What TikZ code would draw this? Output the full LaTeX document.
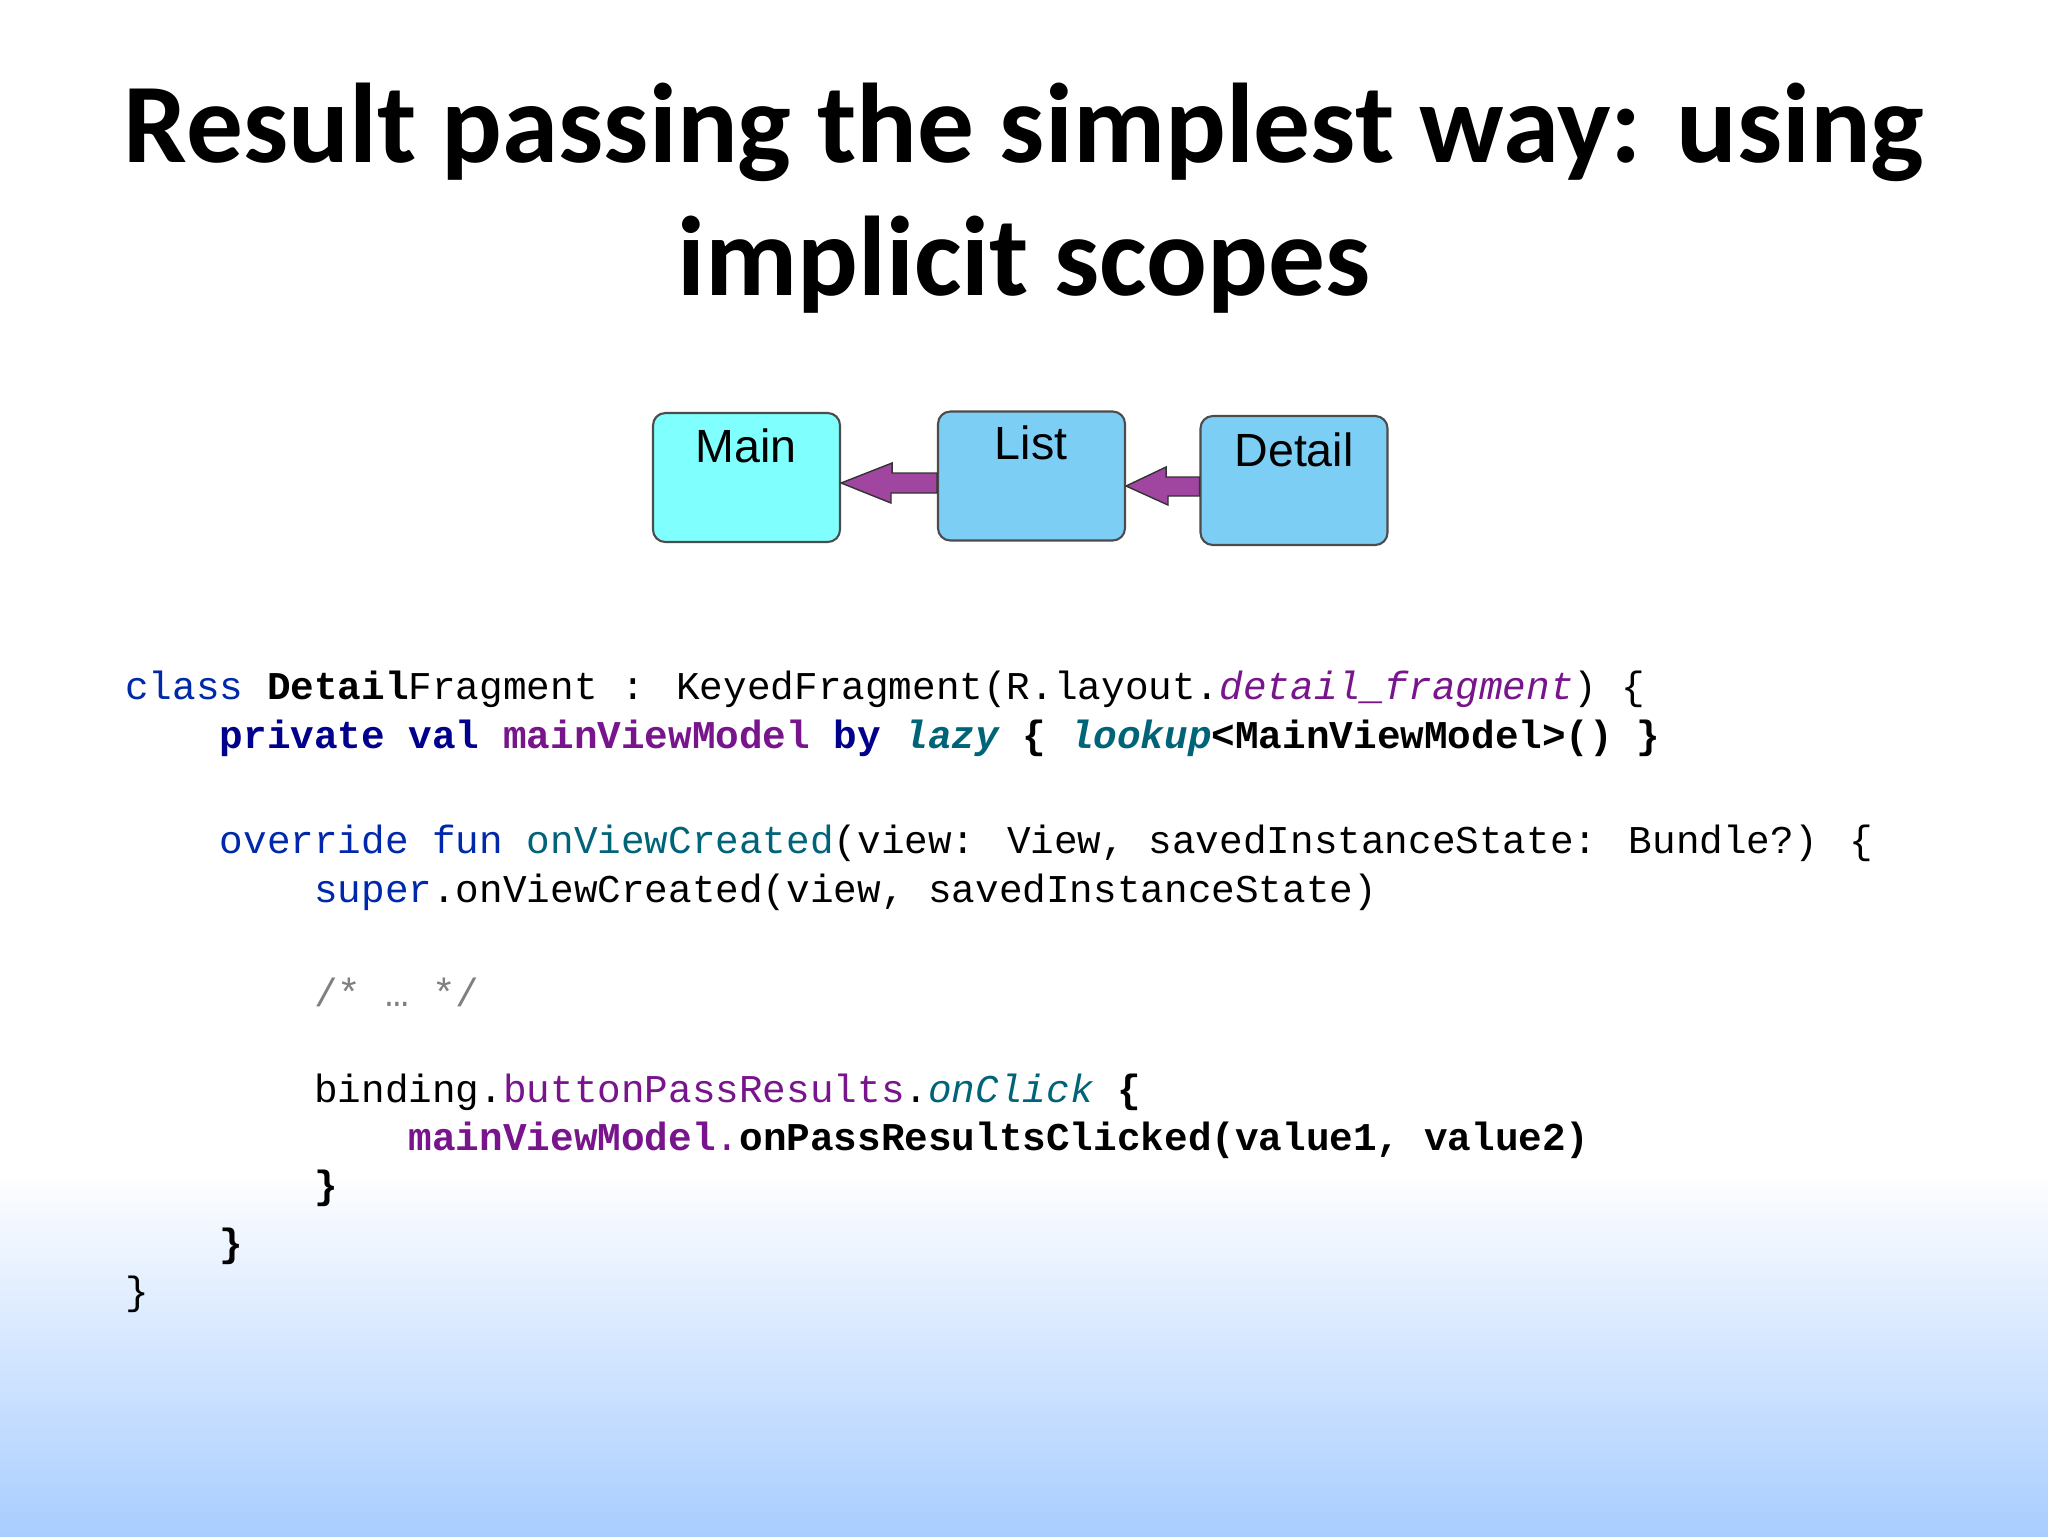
\documentclass[tikz,border=0pt]{standalone}
\usepackage{fontspec}
\setmainfont{Carlito}
\newfontfamily\codefont{Liberation Mono}
\newfontfamily\boxfont{Liberation Sans}
\definecolor{kwblue}{RGB}{0,40,170}
\definecolor{kwnavy}{RGB}{0,0,140}
\definecolor{kwpurple}{RGB}{120,20,140}
\definecolor{kwteal}{RGB}{0,100,120}
\definecolor{cmtgray}{RGB}{128,128,128}
\definecolor{maincyan}{RGB}{128,255,255}
\definecolor{boxblue}{RGB}{125,206,245}
\definecolor{arrowpurple}{RGB}{160,70,160}
\definecolor{bgblue}{RGB}{168,205,255}
\newcommand{\kb}[1]{\textcolor{kwblue}{#1}}
\newcommand{\kn}[1]{\textcolor{kwnavy}{\bfseries #1}}
\newcommand{\kp}[1]{\textcolor{kwpurple}{#1}}
\newcommand{\kt}[1]{\textcolor{kwteal}{#1}}
\tikzset{
  codeline/.style={anchor=base west, inner sep=0pt, font=\codefont\fontsize{22.4}{26}\selectfont},
  boxnode/.style={draw=black!70, line width=1.2pt, rounded corners=7pt, minimum width=187*0.02cm, minimum height=129*0.02cm, inner sep=0pt},
  boxlabel/.style={anchor=base, inner sep=0pt, font=\boxfont\fontsize{26.5}{30}\selectfont},
  fatarrow/.style={fill=arrowpurple, draw=black!80, line width=0.8pt},
  titletext/.style={anchor=base, inner sep=0pt, font=\bfseries\fontsize{64.5}{70}\selectfont}
}
\begin{document}
\begin{tikzpicture}[x=0.02cm,y=-0.02cm]
\useasboundingbox (0,0) rectangle (2048,1536);
\fill[white] (0,0) rectangle (2048,1170);
\shade[top color=white,bottom color=bgblue] (0,1170) rectangle (2048,1536);
\node[titletext] (t1) at (1024,162) {Result passing the simplest way: using};
\node[titletext] (t2) at (1024,295) {implicit scopes};
% boxes
\node[boxnode, fill=maincyan] (main) at (746.5,477.5) {};
\node[boxnode, fill=boxblue] (list) at (1031.5,476) {};
\node[boxnode, fill=boxblue] (detail) at (1294,480.5) {};
\node[boxlabel] (mainl) at (746,462) {Main};
\node[boxlabel] (listl) at (1031,459) {List};
\node[boxlabel] (detaill) at (1294,466) {Detail};
% arrows
\draw[fatarrow] (main.east |- 0,483) -- ++(51,-20) -- ++(0,10) -- (list.west |- 0,473) -- (list.west |- 0,493) -- (891,493) -- ++(0,10) -- cycle;
\draw[fatarrow] (list.east |- 0,486) -- ++(40,-19) -- ++(0,10) -- (detail.west |- 0,477) -- (detail.west |- 0,496) -- (1168,496) -- ++(0,9) -- cycle;
% code
\node[codeline] (c1) at (125,699) {\kb{class} \textbf{Detail}Fragment : KeyedFragment(R.layout.\kp{\itshape detail\_fragment}) \{};
\node[codeline] (c2) at (125,748) {\phantom{xxxx}\kn{private val} \textcolor{kwpurple}{\bfseries mainViewModel} \kn{by} \textcolor{kwteal}{\bfseries\itshape lazy} \textbf{\{} \textcolor{kwteal}{\bfseries\itshape lookup}\textbf{<MainViewModel>() \}}};
\node[codeline] (c3) at (125,853) {\phantom{xxxx}\kb{override fun} \kt{onViewCreated}(view: View, savedInstanceState: Bundle?) \{};
\node[codeline] (c4) at (125,902) {\phantom{xxxxxxxx}\kb{super}.onViewCreated(view, savedInstanceState)};
\node[codeline] (c5) at (125,1006) {\phantom{xxxxxxxx}\textcolor{cmtgray}{/* … */}};
\node[codeline] (c6) at (125,1102) {\phantom{xxxxxxxx}binding.\kp{buttonPassResults}.\kt{\itshape onClick} \textbf{\{}};
\node[codeline] (c7) at (125,1150) {\phantom{xxxxxxxxxxxx}\textcolor{kwpurple}{\bfseries mainViewModel}\kp{.}\textbf{onPassResultsClicked(value1, value2)}};
\node[codeline] (c8) at (125,1198) {\phantom{xxxxxxxx}\textbf{\}}};
\node[codeline] (c9) at (125,1256) {\phantom{xxxx}\textbf{\}}};
\node[codeline] (c10) at (125,1304) {\}};
\end{tikzpicture}
\end{document}
